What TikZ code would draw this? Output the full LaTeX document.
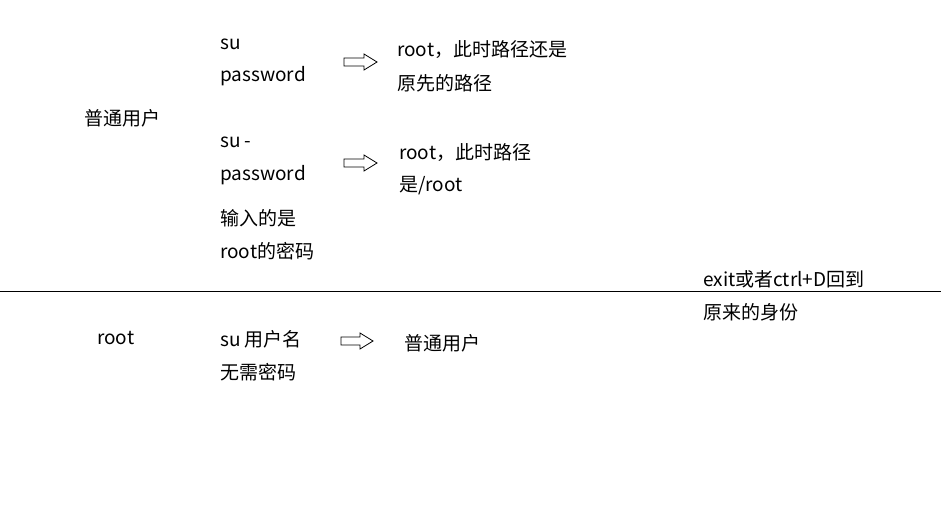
\documentclass[tikz,border=0pt]{standalone}
\usepackage{fontspec}
\setmainfont{Noto Sans CJK SC}
\begin{document}
\begin{tikzpicture}[x=1pt,y=-1pt,
  txt/.style={anchor=west,inner sep=0pt,font=\fontsize{19}{20}\selectfont},
  blk/.style={line width=0.8pt,line join=miter}]
\useasboundingbox (0,0) rectangle (941,517);
\node[txt] (u) at (84,118) {普通用户};
\node[txt] (a1) at (220,44) {su};
\node[txt] (a2) at (220,76) {password};
\draw[blk] (344,58)--(364,58)--(364,54)--(377,62)--(364,70)--(364,66)--(344,66)--cycle;
\node[txt] (b1) at (397,50) {root，此时路径还是};
\node[txt] (b2) at (397,83) {原先的路径};
\node[txt] (c1) at (220,142) {su -};
\node[txt] (c2) at (220,175) {password};
\draw[blk] (344,159)--(364,159)--(364,155)--(377,163)--(364,171)--(364,167)--(344,167)--cycle;
\node[txt] (d1) at (399,153) {root，此时路径};
\node[txt] (d2) at (399,186) {是/root};
\node[txt] (e1) at (220,218) {输入的是};
\node[txt] (e2) at (220,251) {root的密码};
\coordinate (l0) at (0,291);
\coordinate (l1) at (941,291);
\draw[line width=0.8pt] (l0) -- (l1);
\node[txt] (f1) at (703,279) {exit或者ctrl+D回到};
\node[txt] (f2) at (703,312) {原来的身份};
\node[txt] (r) at (97,338) {root};
\node[txt] (g1) at (220,339) {su 用户名};
\node[txt] (g2) at (220,372) {无需密码};
\draw[blk] (341,337)--(360,337)--(360,333)--(373,341)--(360,349)--(360,345)--(341,345)--cycle;
\node[txt] (h) at (404,343) {普通用户};
\end{tikzpicture}
\end{document}
